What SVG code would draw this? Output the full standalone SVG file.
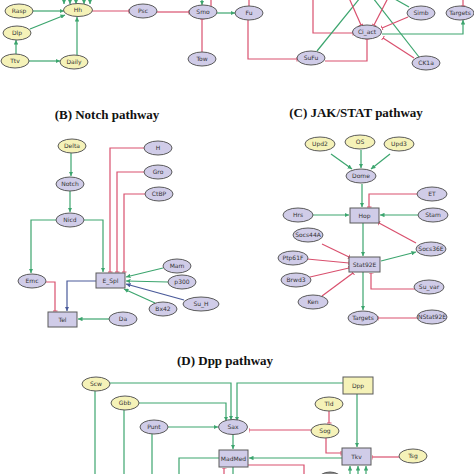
<svg xmlns="http://www.w3.org/2000/svg" width="474" height="474" viewBox="0 0 474 474">
<style>
.y{fill:#f5f2b8;stroke:#5a5a5a;stroke-width:1}
.p{fill:#d0cce8;stroke:#5a5a5a;stroke-width:1}
.l{font-family:"DejaVu Sans",sans-serif;font-size:6px;fill:#333;text-anchor:middle}
.t{font-family:"Liberation Serif",serif;font-size:13px;font-weight:bold;fill:#111;text-anchor:middle}
.g{fill:none;stroke:#3ca56e;stroke-width:1.2}
.r{fill:none;stroke:#d9506e;stroke-width:1.2}
.b{fill:none;stroke:#4a5a9a;stroke-width:1.2}
</style>
<defs>
<marker id="ag" viewBox="0 0 8 8" refX="8" refY="4" markerWidth="4.5" markerHeight="4.5" orient="auto" markerUnits="userSpaceOnUse"><path d="M0,0 L8,4 L0,8 z" fill="#3ca56e"/></marker>
<marker id="ab" viewBox="0 0 8 8" refX="8" refY="4" markerWidth="4.5" markerHeight="4.5" orient="auto" markerUnits="userSpaceOnUse"><path d="M0,0 L8,4 L0,8 z" fill="#4a5a9a"/></marker>
<marker id="tr" viewBox="0 0 4 10" refX="3" refY="5" markerWidth="2" markerHeight="5" orient="auto" markerUnits="userSpaceOnUse"><rect x="2" y="0" width="2" height="10" fill="#d9506e"/></marker>
</defs>
<rect width="474" height="474" fill="#fff"/>

<g id="titles">
<text class="t" x="107" y="119">(B) Notch pathway</text>
<text class="t" x="356" y="117">(C) JAK/STAT pathway</text>
<text class="t" x="225" y="365">(D) Dpp pathway</text>
</g>

<g id="connectors">
<!-- Panel A -->
<path class="g" d="M33,11 L64,11" marker-end="url(#ag)"/>
<path class="g" d="M30,29 L65,15" marker-end="url(#ag)"/>
<path class="g" d="M16,54 L16,40" marker-end="url(#ag)"/>
<path class="g" d="M29,61 L60,61" marker-end="url(#ag)"/>
<path class="g" d="M77,55 L77,17" marker-end="url(#ag)"/>
<path class="g" d="M64,-6 L64,4" marker-end="url(#ag)"/>
<path class="g" d="M70,-6 L70,4" marker-end="url(#ag)"/>
<path class="g" d="M76,-6 L76,4" marker-end="url(#ag)"/>
<path class="g" d="M84,-6 L84,4" marker-end="url(#ag)"/>
<path class="g" d="M90,-6 L90,4" marker-end="url(#ag)"/>
<path class="r" d="M92,11 L129,11" marker-end="url(#tr)"/>
<path class="r" d="M157,12 L189,12" marker-end="url(#tr)"/>
<path class="g" d="M217,13 L235,13" marker-end="url(#ag)"/>
<path class="r" d="M202,52 L202,19" marker-end="url(#tr)"/>
<path class="g" d="M202,-6 L202,5" marker-end="url(#ag)"/>
<path class="r" d="M211,6 L211,-2"/>
<path class="r" d="M249,6 L249,-2"/>
<path class="r" d="M248,20 L248,59 L297,59" marker-end="url(#tr)"/>
<path class="r" d="M325,61 L367,61 L367,39" marker-end="url(#tr)"/>
<path class="r" d="M313,-2 L313,33 L353,33" marker-end="url(#tr)"/>
<path class="g" d="M317,51 L360,-2"/>
<path class="g" d="M419,57 L373,-2"/>
<path class="r" d="M349,-2 L361,25" marker-end="url(#tr)"/>
<path class="r" d="M388,-2 L374,25" marker-end="url(#tr)"/>
<path class="r" d="M408,17 L382,28" marker-end="url(#tr)"/>
<path class="g" d="M409,7 L393,-2"/>
<path class="r" d="M414,58 L383,38" marker-end="url(#tr)"/>
<path class="g" d="M382,34 L463,34 L463,20" marker-end="url(#ag)"/>
<path class="r" d="M463,-3 L463,6" marker-end="url(#tr)"/>
<!-- Panel B -->
<path class="g" d="M71,153 L71,176" marker-end="url(#ag)"/>
<path class="g" d="M70,191 L70,212" marker-end="url(#ag)"/>
<path class="g" d="M56,220 L31,220 L31,273" marker-end="url(#ag)"/>
<path class="g" d="M84,220 L103,220 L103,272" marker-end="url(#ag)"/>
<path class="r" d="M144,148 L110,148 L110,272" marker-end="url(#tr)"/>
<path class="r" d="M144,172 L117,172 L117,272" marker-end="url(#tr)"/>
<path class="r" d="M145,194 L124,194 L124,272" marker-end="url(#tr)"/>
<path class="g" d="M163,268 L126,277" marker-end="url(#ag)"/>
<path class="g" d="M168,282 L126,281" marker-end="url(#ag)"/>
<path class="b" d="M184,300 L126,284" marker-end="url(#ab)"/>
<path class="g" d="M155,303 L124,289" marker-end="url(#ag)"/>
<path class="b" d="M96,281 L67,281 L67,311" marker-end="url(#ab)"/>
<path class="r" d="M46,282 L55,282 L55,311" marker-end="url(#tr)"/>
<path class="g" d="M109,319 L78,319" marker-end="url(#ag)"/>
<!-- Panel C -->
<path class="g" d="M331,154 L352,169" marker-end="url(#ag)"/>
<path class="g" d="M361,150 L361,168" marker-end="url(#ag)"/>
<path class="g" d="M390,154 L371,169" marker-end="url(#ag)"/>
<path class="g" d="M362,184 L362,207" marker-end="url(#ag)"/>
<path class="r" d="M418,194 L369,194 L369,207" marker-end="url(#tr)"/>
<path class="g" d="M312,215 L349,215" marker-end="url(#ag)"/>
<path class="g" d="M419,215 L380,215" marker-end="url(#ag)"/>
<path class="r" d="M416,243 L379,223" marker-end="url(#tr)"/>
<path class="g" d="M363,223 L363,256" marker-end="url(#ag)"/>
<path class="r" d="M322,244 L349,257" marker-end="url(#tr)"/>
<path class="r" d="M307,259 L349,263" marker-end="url(#tr)"/>
<path class="r" d="M310,277 L349,268" marker-end="url(#tr)"/>
<path class="r" d="M322,296 L353,273" marker-end="url(#tr)"/>
<path class="g" d="M381,261 L416,252" marker-end="url(#ag)"/>
<path class="g" d="M363,272 L363,310" marker-end="url(#ag)"/>
<path class="r" d="M415,289 L371,289 L371,273" marker-end="url(#tr)"/>
<path class="r" d="M418,318 L378,318" marker-end="url(#tr)"/>
<!-- Panel D -->
<path class="g" d="M110,383 L231,383 L231,420" marker-end="url(#ag)"/>
<path class="g" d="M139,403 L226,403 L226,421" marker-end="url(#ag)"/>
<path class="g" d="M343,383 L237,383 L237,421" marker-end="url(#ag)"/>
<path class="g" d="M168,427 L218,427" marker-end="url(#ag)"/>
<path class="r" d="M311,430 L249,430" marker-end="url(#tr)"/>
<path class="r" d="M329,411 L329,423" marker-end="url(#tr)"/>
<path class="g" d="M233,434 L233,449" marker-end="url(#ag)"/>
<path class="g" d="M357,394 L357,447" marker-end="url(#ag)"/>
<path class="r" d="M326,438 L326,453 L341,453" marker-end="url(#tr)"/>
<path class="g" d="M342,458 L249,458" marker-end="url(#ag)"/>
<path class="r" d="M399,457 L372,457" marker-end="url(#tr)"/>
<path class="g" d="M219,458 L179,458 L179,476"/>
<path class="g" d="M95,391 L95,476"/>
<path class="g" d="M124,410 L124,476"/>
<path class="g" d="M152,434 L152,476"/>
<path class="r" d="M224,476 L224,468" marker-end="url(#tr)"/>
<path class="g" d="M233,467 L233,476"/>
<path class="r" d="M248,465 L304,465 L304,476"/>
<path class="g" d="M350,476 L350,466" marker-end="url(#ag)"/>
<path class="g" d="M358,476 L358,466" marker-end="url(#ag)"/>
<path class="g" d="M366,476 L366,466" marker-end="url(#ag)"/>
</g>

<!-- Panel A nodes -->
<g id="Rasp"><ellipse class="y" cx="19" cy="11" rx="14" ry="7"/><text class="l" x="19" y="13">Rasp</text></g>
<g id="Dlp"><ellipse class="y" cx="17" cy="33" rx="14" ry="7"/><text class="l" x="17" y="35">Dlp</text></g>
<g id="Ttv"><ellipse class="y" cx="15" cy="61" rx="14" ry="7"/><text class="l" x="15" y="63">Ttv</text></g>
<g id="Daily"><ellipse class="y" cx="74" cy="62" rx="14" ry="7"/><text class="l" x="74" y="64">Daily</text></g>
<g id="Hh"><ellipse class="y" cx="78" cy="10" rx="14.5" ry="6.5"/><text class="l" x="78" y="12">Hh</text></g>
<g id="Psc"><ellipse class="p" cx="143" cy="11" rx="14" ry="7"/><text class="l" x="143" y="13">Psc</text></g>
<g id="Smo"><ellipse class="p" cx="203" cy="12" rx="14" ry="7"/><text class="l" x="203" y="14">Smo</text></g>
<g id="Fu"><ellipse class="p" cx="249" cy="13" rx="14" ry="7"/><text class="l" x="249" y="15">Fu</text></g>
<g id="Tow"><ellipse class="p" cx="202" cy="59" rx="14" ry="7"/><text class="l" x="202" y="61">Tow</text></g>
<g id="SuFu"><ellipse class="p" cx="311" cy="58" rx="14" ry="7"/><text class="l" x="311" y="60">SuFu</text></g>
<g id="Ci_act"><ellipse class="p" cx="367" cy="32" rx="14.5" ry="7"/><text class="l" x="367" y="34">Ci_act</text></g>
<g id="Simb"><ellipse class="p" cx="421" cy="13" rx="14" ry="7"/><text class="l" x="421" y="15">Simb</text></g>
<g id="TargetsA"><ellipse class="p" cx="460" cy="13" rx="14" ry="7"/><text class="l" x="460" y="15">Targets</text></g>
<g id="CK1a"><ellipse class="p" cx="426" cy="63" rx="14" ry="7"/><text class="l" x="426" y="65">CK1a</text></g>

<!-- Panel B nodes -->
<g id="Delta"><ellipse class="y" cx="72" cy="146" rx="14" ry="7"/><text class="l" x="72" y="148">Delta</text></g>
<g id="Notch"><ellipse class="p" cx="70" cy="184" rx="14" ry="7"/><text class="l" x="70" y="186">Notch</text></g>
<g id="Nicd"><ellipse class="p" cx="70" cy="220" rx="14" ry="7"/><text class="l" x="70" y="222">Nicd</text></g>
<g id="H"><ellipse class="p" cx="158" cy="148" rx="14" ry="7"/><text class="l" x="158" y="150">H</text></g>
<g id="Gro"><ellipse class="p" cx="158" cy="172" rx="14" ry="7"/><text class="l" x="158" y="174">Gro</text></g>
<g id="CtBP"><ellipse class="p" cx="159" cy="194" rx="14" ry="7"/><text class="l" x="159" y="196">CtBP</text></g>
<g id="E_Spl"><rect class="p" x="96" y="273" width="29" height="15"/><text class="l" x="110.5" y="282.5">E_Spl</text></g>
<g id="Emc"><ellipse class="p" cx="32" cy="281" rx="14" ry="7"/><text class="l" x="32" y="283">Emc</text></g>
<g id="Tel"><rect class="p" x="48" y="312" width="29" height="15"/><text class="l" x="62.5" y="321.5">Tel</text></g>
<g id="Mam"><ellipse class="p" cx="177" cy="266" rx="14" ry="7"/><text class="l" x="177" y="268">Mam</text></g>
<g id="p300"><ellipse class="p" cx="182" cy="282" rx="14" ry="7"/><text class="l" x="182" y="284">p300</text></g>
<g id="Su_H"><ellipse class="p" cx="201" cy="304" rx="18" ry="7"/><text class="l" x="201" y="306">Su_H</text></g>
<g id="Bx42"><ellipse class="p" cx="163" cy="309" rx="14" ry="7"/><text class="l" x="163" y="311">Bx42</text></g>
<g id="Da"><ellipse class="p" cx="123" cy="319" rx="14" ry="7"/><text class="l" x="123" y="321">Da</text></g>

<!-- Panel C nodes -->
<g id="Upd2"><ellipse class="y" cx="320" cy="144" rx="15" ry="7"/><text class="l" x="320" y="146">Upd2</text></g>
<g id="OS"><ellipse class="y" cx="360" cy="142" rx="15" ry="7"/><text class="l" x="360" y="144">OS</text></g>
<g id="Upd3"><ellipse class="y" cx="399" cy="144" rx="15" ry="7"/><text class="l" x="399" y="146">Upd3</text></g>
<g id="Dome"><ellipse class="p" cx="361" cy="176" rx="15" ry="7"/><text class="l" x="361" y="178">Dome</text></g>
<g id="Hop"><rect class="p" x="350" y="208" width="29" height="15"/><text class="l" x="364.5" y="217.5">Hop</text></g>
<g id="ET"><ellipse class="p" cx="432" cy="194" rx="15" ry="7"/><text class="l" x="432" y="196">ET</text></g>
<g id="Stam"><ellipse class="p" cx="433" cy="215" rx="15" ry="7"/><text class="l" x="433" y="217">Stam</text></g>
<g id="Hrs"><ellipse class="p" cx="298" cy="215" rx="15" ry="7"/><text class="l" x="298" y="217">Hrs</text></g>
<g id="Socs44A"><ellipse class="p" cx="308" cy="235" rx="15" ry="7"/><text class="l" x="308" y="237">Socs44A</text></g>
<g id="Ptp61F"><ellipse class="p" cx="293" cy="258" rx="15" ry="7"/><text class="l" x="293" y="260">Ptp61F</text></g>
<g id="Brwd3"><ellipse class="p" cx="296" cy="280" rx="15" ry="7"/><text class="l" x="296" y="282">Brwd3</text></g>
<g id="Ken"><ellipse class="p" cx="313" cy="302" rx="15" ry="7"/><text class="l" x="313" y="304">Ken</text></g>
<g id="Stat92E"><rect class="p" x="349" y="257" width="31" height="15"/><text class="l" x="364.5" y="266.5">Stat92E</text></g>
<g id="Socs36E"><ellipse class="p" cx="431" cy="249" rx="15" ry="7"/><text class="l" x="431" y="251">Socs36E</text></g>
<g id="Su_var"><ellipse class="p" cx="429" cy="287" rx="15" ry="7"/><text class="l" x="429" y="289">Su_var</text></g>
<g id="TargetsC"><ellipse class="p" cx="363" cy="318" rx="15" ry="7"/><text class="l" x="363" y="320">Targets</text></g>
<g id="NStat92E"><ellipse class="p" cx="432" cy="317" rx="15" ry="7"/><text class="l" x="432" y="319">NStat92E</text></g>

<!-- Panel D nodes -->
<g id="Scw"><ellipse class="y" cx="96" cy="384" rx="14" ry="7"/><text class="l" x="96" y="386">Scw</text></g>
<g id="Gbb"><ellipse class="y" cx="125" cy="403" rx="14" ry="7"/><text class="l" x="125" y="405">Gbb</text></g>
<g id="Punt"><ellipse class="p" cx="154" cy="427" rx="14" ry="7"/><text class="l" x="154" y="429">Punt</text></g>
<g id="Sax"><ellipse class="p" cx="233" cy="427" rx="14.5" ry="7.5"/><text class="l" x="233" y="429">Sax</text></g>
<g id="MadMed"><rect class="p" x="219" y="450" width="29" height="17"/><text class="l" x="233.5" y="460.5">MadMed</text></g>
<g id="Dpp"><rect class="y" x="343" y="377" width="30" height="17"/><text class="l" x="358" y="387.5">Dpp</text></g>
<g id="Tld"><ellipse class="y" cx="329" cy="404" rx="14" ry="7"/><text class="l" x="329" y="406">Tld</text></g>
<g id="Sog"><ellipse class="y" cx="325" cy="431" rx="14" ry="7"/><text class="l" x="325" y="433">Sog</text></g>
<g id="Tkv"><rect class="p" x="342" y="448" width="29" height="17"/><text class="l" x="356.5" y="458.5">Tkv</text></g>
<g id="Tsg"><ellipse class="y" cx="413" cy="456" rx="14" ry="7"/><text class="l" x="413" y="458">Tsg</text></g>
<g id="cutNode"><ellipse cx="330" cy="480" rx="12" ry="8" fill="#8a8a8a" stroke="#5a5a5a" stroke-width="1"/></g>
</svg>
